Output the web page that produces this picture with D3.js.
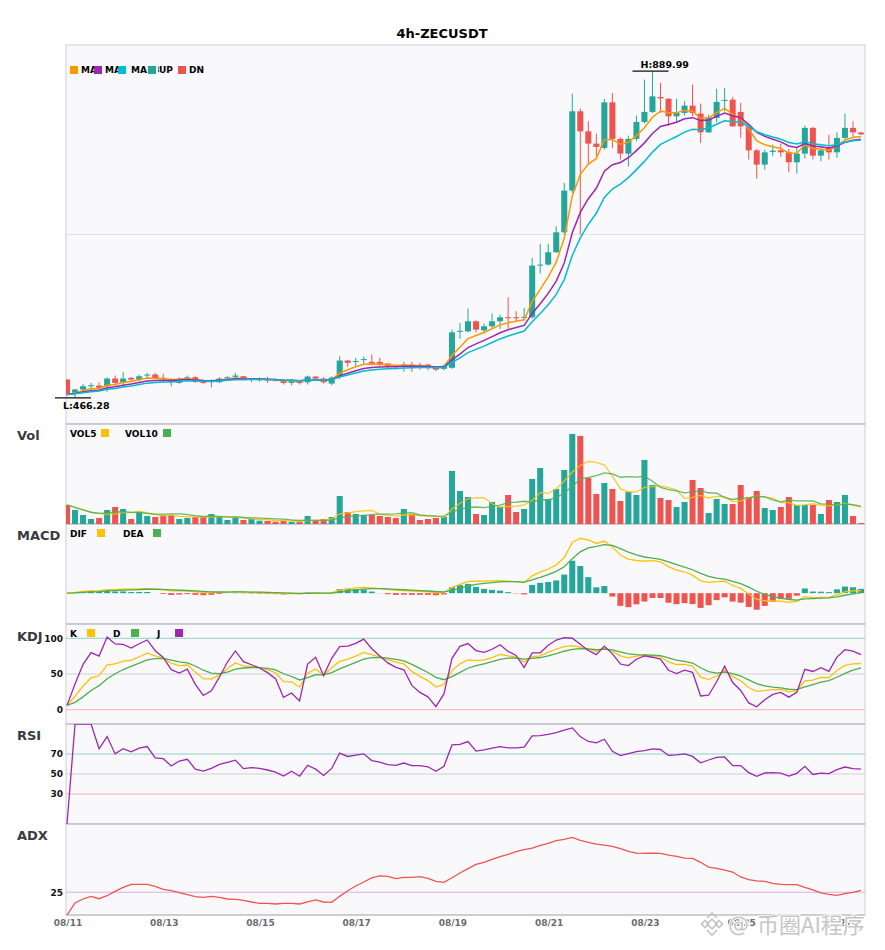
<!DOCTYPE html>
<html lang="zh">
<head>
<meta charset="utf-8">
<title>4h-ZECUSDT</title>
<script src="https://d3js.org/d3.v7.min.js"></script>
<style>
  html, body { margin: 0; padding: 0; background: #fff; }
  svg { display: block; font-family: "DejaVu Sans", sans-serif; }
</style>
</head>
<body>
<div id="chart"></div>
<script>
// ---- data (4h candles) ----
const open = [490.0,472.8,477.1,481.8,482.2,481.3,491.3,486.5,492.2,490.0,
  495.2,496.5,492.2,488.7,485.7,491.3,493.0,487.8,486.5,486.5,
  491.3,493.5,494.3,490.0,489.6,490.0,490.7,489.1,485.7,486.8,
  486.5,493.9,491.3,484.8,493.5,514.7,513.4,515.3,513.0,513.0,
  510.8,508.6,506.5,509.5,509.1,509.5,505.2,503.9,505.2,552.3,
  552.6,565.6,553.9,559.1,565.6,570.8,570.8,570.0,570.8,637.8,
  639.1,655.1,681.0,735.1,837.9,811.9,796.0,790.4,849.5,802.1,
  783.0,802.1,824.1,837.1,856.5,854.3,831.4,835.8,845.3,834.9,
  810.6,829.3,851.7,853.0,837.1,818.4,787.3,768.8,785.2,787.3,
  784.7,771.8,783.0,816.4,780.4,790.4,784.7,803.4,816.4,810.3];
const high = [490.6,477.9,484.4,485.7,486.5,493.0,495.2,499.5,493.5,496.5,
  498.7,498.7,497.4,491.3,493.0,495.2,494.3,490.0,490.0,493.0,
  494.3,498.7,494.8,492.2,492.6,493.5,491.3,490.0,490.0,488.1,
  495.2,494.3,493.0,494.3,520.2,515.2,518.2,520.2,522.4,518.2,
  511.2,509.5,513.0,513.0,511.7,510.0,505.6,509.5,554.8,563.5,
  582.1,566.9,562.6,575.6,574.3,596.7,578.6,583.0,647.8,666.0,
  666.0,688.8,745.0,860.8,841.4,824.9,809.0,854.0,861.7,804.2,
  806.4,832.3,879.0,889.99,874.7,854.3,854.0,850.8,872.5,847.9,
  833.6,867.3,868.2,856.5,848.8,819.0,789.1,788.2,794.7,796.0,
  789.1,790.4,819.3,817.6,792.5,807.7,810.6,834.9,824.9,811.2];
const low = [469.3,466.28,472.8,477.1,477.1,474.1,481.3,481.3,487.0,487.8,
  490.9,490.9,485.7,481.3,484.4,487.8,485.7,484.4,480.0,485.7,
  489.1,490.0,489.1,486.5,487.4,485.7,487.4,483.5,482.6,483.5,
  483.5,490.0,484.8,482.6,490.9,506.5,507.3,509.5,508.6,507.3,
  505.2,503.0,500.0,500.0,503.0,502.1,500.8,502.1,503.9,542.8,
  551.3,551.3,549.7,555.8,555.8,555.8,565.6,566.9,568.7,627.4,
  637.8,654.3,678.0,732.1,678.0,768.8,779.1,788.2,790.4,775.3,
  766.6,799.0,821.9,835.8,835.8,819.3,823.6,832.3,831.4,796.9,
  809.9,823.6,837.9,817.6,803.4,775.3,750.6,762.3,779.5,778.8,
  758.8,757.1,776.6,775.3,773.0,775.3,777.5,801.2,804.7,807.3];
const close = [470.6,477.1,481.3,482.6,479.3,491.3,485.7,491.3,490.0,494.3,
  496.5,491.3,490.9,487.0,491.3,493.0,487.0,485.7,487.8,491.3,
  493.0,495.2,490.0,490.9,490.4,489.4,488.1,485.7,488.7,485.5,
  493.9,491.3,486.5,492.6,514.7,511.7,514.0,516.6,510.8,509.5,
  507.3,506.5,509.5,507.3,507.3,506.5,503.0,507.8,551.3,553.2,
  565.6,554.8,559.1,565.6,570.8,569.5,569.5,571.3,637.8,639.1,
  655.1,681.0,735.1,837.9,811.9,796.0,791.7,849.5,802.1,783.0,
  802.1,824.1,837.1,857.3,854.7,831.4,835.8,845.3,835.8,810.6,
  830.1,850.1,852.7,818.4,818.4,787.3,768.8,784.7,786.9,784.7,
  771.8,783.0,816.4,780.4,787.3,784.7,803.4,816.4,810.6,808.1];
const volume = [19,14,9,5,6,14,17,15,5,12,
  8,7,9,9,5,6,7,7,10,7,
  4,6,4,5,3.3,3,2.3,3.3,2,2,
  8,3,5,7,28,12,10,9,9,8,
  7,6,15,10,4,5,6,7,53,33,
  27,10,9,22,17,29,12,15,45,56,
  25,35,54,90,88,46,30,41,35,23,
  32,29,64,39,26,24,17,22,44,36,
  11,25,20,20,39,27,33,16,14,17,
  27,19,19,19,10,24,22,29,8,1];
// ADX line
const adx = [0,13.2,17.6,20.5,17.9,21.2,26.0,30.4,33.7,33.7,
  33.7,31.5,28.2,26.7,24.5,22.3,20.1,19.4,20.5,19.4,
  17.6,17.2,16.1,14.3,12.8,12.8,12.1,12.8,12.8,12.1,
  14.3,16.5,14.3,13.9,20.5,26.7,31.9,36.3,40.7,42.9,
  42.5,39.9,41.4,41.4,42.1,40.3,37.0,35.9,41.0,46.1,
  50.9,55.7,57.9,61.2,64.1,66.7,69.6,71.8,73.6,76.6,
  78.8,81.7,83.1,85.3,82.0,79.8,78.0,76.9,75.5,72.9,
  70.0,68.1,67.8,68.1,67.8,65.9,64.5,62.6,62.3,57.9,
  52.7,51.3,49.4,47.2,41.8,38.8,37.4,37.0,34.8,33.7,
  33.3,33.3,30.4,27.5,24.2,22.7,21.6,23.4,24.9,27.1];

const tickIdx = [0, 12, 24, 36, 48, 60, 72, 84, 96];
const tickLabels = ["08/11","08/13","08/15","08/17","08/19","08/21","08/23","08/25","08/27"];
const kdjTicks = [0, 50, 100];
const rsiTicks = [30, 50, 70];
const adxTicks = [25];

// indicator periods
const maPeriods = [5, 9, 13];
const macdPeriods = [6, 13, 5];

// ---- indicators computed from the candles ----
function sma(arr, n) {
  return arr.map((d, i) => d3.mean(arr.slice(Math.max(0, i - n + 1), i + 1)));
}
function ewm(arr, alpha) {
  const out = [];
  arr.forEach((d, i) => out.push(i === 0 ? d : alpha * d + (1 - alpha) * out[i - 1]));
  return out;
}
const ema = (arr, n) => ewm(arr, 2 / (n + 1));

const [ma5, ma10, ma20] = maPeriods.map(n => ema(close, n));
const vol5 = sma(volume, 5), vol10 = sma(volume, 10);

const emaFast = ema(close, macdPeriods[0]), emaSlow = ema(close, macdPeriods[1]);
const dif = emaFast.map((d, i) => d - emaSlow[i]);
const dea = ema(dif, macdPeriods[2]);
const hist = dif.map((d, i) => 2 * (d - dea[i]));

const rsv = close.map((c, i) => {
  const lo = d3.min(low.slice(Math.max(0, i - 8), i + 1));
  const hi = d3.max(high.slice(Math.max(0, i - 8), i + 1));
  return hi === lo ? 0 : (c - lo) / (hi - lo) * 100;
});
const kLine = ewm(rsv, 1 / 3);
const dLine = ewm(kLine, 1 / 3);
const jLine = kLine.map((k, i) => 3 * k - 2 * dLine[i]);

// RSI 14, Wilder smoothing
const diff = close.map((c, i) => i === 0 ? 0 : c - close[i - 1]);
const avgGain = ewm(diff.map(d => Math.max(d, 0)), 1 / 14);
const avgLoss = ewm(diff.map(d => Math.max(-d, 0)), 1 / 14);
const rsi = avgGain.map((g, i) => (g + avgLoss[i]) === 0 ? 0 : 100 * g / (g + avgLoss[i]));

// ---- layout ----
const width = 885, height = 950;
const left = 66, right = 865;
const panels = {
  main: [45, 424], vol: [424, 524], macd: [524, 624],
  kdj: [624, 724], rsi: [724, 824], adx: [824, 915]
};
const UP = "#26a69a", DN = "#ef5350";
const BG = "#f9f9fb";
const idx = d3.range(close.length);

const svg = d3.select("#chart").append("svg")
  .attr("width", width).attr("height", height)
  .attr("viewBox", `0 0 ${width} ${height}`);

const x = d3.scaleBand().domain(idx).range([64, 864]).paddingInner(0.25);
const xc = i => x(i) + x.bandwidth() / 2;
const col = i => close[i] >= open[i] ? UP : DN;

// panel backgrounds
Object.entries(panels).forEach(([key, [t, b]]) => {
  svg.append("rect").attr("x", left).attr("y", t)
    .attr("width", right - left).attr("height", b - t)
    .attr("fill", BG).attr("stroke", "#cfcfd6").attr("stroke-width", 1);
  svg.append("clipPath").attr("id", "clip-" + key)
    .append("rect").attr("x", left).attr("y", t)
    .attr("width", right - left).attr("height", b - t);
});
// panel separators
[424, 524, 624, 724, 824, 915].forEach(yy => {
  svg.append("line").attr("x1", left).attr("x2", right).attr("y1", yy).attr("y2", yy)
    .attr("stroke", "#b4b4bc").attr("stroke-width", 1);
});

// title
svg.append("text").attr("x", 442).attr("y", 38).attr("text-anchor", "middle")
  .style("font-size", "13px").style("font-weight", "bold").text("4h-ZECUSDT");

// panel labels
[["Vol", 440], ["MACD", 540], ["KDJ", 641], ["RSI", 740], ["ADX", 840]].forEach(([t, yy]) => {
  svg.append("text").attr("x", 17).attr("y", yy)
    .style("font-size", "13px").style("font-weight", "bold").style("fill", "#3a3a40").text(t);
});

const lineOf = (ys) => d3.line().x((d, i) => xc(i)).y(d => ys(d));

// ---- main candle panel ----
const lo = d3.min(low), hi = d3.max(high), pad = (hi - lo) * 0.08;
const y = d3.scaleLinear().domain([lo - pad, hi + pad]).range([panels.main[1], panels.main[0]]);
const gMain = svg.append("g").attr("clip-path", "url(#clip-main)");

gMain.append("line").attr("x1", left).attr("x2", right)
  .attr("y1", y((lo + hi) / 2)).attr("y2", y((lo + hi) / 2))
  .attr("stroke", "#e2e2e6").attr("stroke-width", 1);

gMain.selectAll(".wick").data(idx).enter().append("line")
  .attr("class", "wick")
  .attr("x1", i => xc(i)).attr("x2", i => xc(i))
  .attr("y1", i => y(high[i])).attr("y2", i => y(low[i]))
  .attr("stroke", col).attr("stroke-width", 1);

gMain.selectAll(".body").data(idx).enter().append("rect")
  .attr("class", "body")
  .attr("x", i => x(i)).attr("width", x.bandwidth())
  .attr("y", i => y(Math.max(open[i], close[i])))
  .attr("height", i => Math.max(1, Math.abs(y(open[i]) - y(close[i]))))
  .attr("fill", col);

[[ma5, "#ff9800"], [ma10, "#9c27b0"], [ma20, "#00bcd4"]].forEach(([s, c]) => {
  gMain.append("path").datum(s).attr("d", lineOf(y))
    .attr("fill", "none").attr("stroke", c).attr("stroke-width", 1.5);
});

// high / low markers
const iHi = d3.maxIndex(high), iLo = d3.minIndex(low);
svg.append("line").attr("x1", xc(iHi) - 20).attr("x2", xc(iHi) + 16)
  .attr("y1", y(high[iHi])).attr("y2", y(high[iHi])).attr("stroke", "#111").attr("stroke-width", 1.2);
svg.append("text").attr("x", xc(iHi) - 12).attr("y", y(high[iHi]) - 3)
  .style("font-size", "9.5px").style("font-weight", "bold").text("H:" + high[iHi].toFixed(2));
svg.append("line").attr("x1", xc(iLo) - 20).attr("x2", xc(iLo) + 16)
  .attr("y1", y(low[iLo])).attr("y2", y(low[iLo])).attr("stroke", "#111").attr("stroke-width", 1.2);
svg.append("text").attr("x", xc(iLo) - 12).attr("y", y(low[iLo]) + 11)
  .style("font-size", "9.5px").style("font-weight", "bold").text("L:" + low[iLo].toFixed(2));

// legends
function legendSwatchFirst(items, yy) {
  items.forEach(([label, c, sx, tx]) => {
    svg.append("rect").attr("x", sx).attr("y", yy - 8).attr("width", tx - sx - 1).attr("height", 10)
      .attr("fill", BG);
    svg.append("rect").attr("x", sx).attr("y", yy - 7).attr("width", 8).attr("height", 8).attr("fill", c);
    svg.append("text").attr("x", tx).attr("y", yy)
      .style("font-size", "9px").style("font-weight", "bold").text(label);
  });
}
function legendTextFirst(items, yy) {
  items.forEach(([label, c, tx, sx]) => {
    svg.append("text").attr("x", tx).attr("y", yy)
      .style("font-size", "9px").style("font-weight", "bold").text(label);
    svg.append("rect").attr("x", sx).attr("y", yy - 8).attr("width", 8).attr("height", 8).attr("fill", c);
  });
}
legendSwatchFirst([
  ["MA" + maPeriods[0], "#ff9800", 70, 81], ["MA" + maPeriods[1], "#9c27b0", 94, 105],
  ["MA" + maPeriods[2], "#00bcd4", 118, 131], ["UP", UP, 148, 159], ["DN", DN, 178, 189]
], 73);

// ---- volume panel ----
const yv = d3.scaleLinear().domain([0, d3.max(volume) * 1.11]).range([panels.vol[1], panels.vol[0]]);
const gVol = svg.append("g").attr("clip-path", "url(#clip-vol)");
gVol.selectAll(".vbar").data(idx).enter().append("rect")
  .attr("class", "vbar")
  .attr("x", i => x(i)).attr("width", x.bandwidth())
  .attr("y", i => yv(volume[i])).attr("height", i => yv(0) - yv(volume[i]))
  .attr("fill", col);
[[vol5, "#ffc107"], [vol10, "#4caf50"]].forEach(([s, c]) => {
  gVol.append("path").datum(s).attr("d", lineOf(yv))
    .attr("fill", "none").attr("stroke", c).attr("stroke-width", 1.3).attr("opacity", 0.85);
});
legendTextFirst([["VOL5", "#ffc107", 70, 101], ["VOL10", "#4caf50", 125, 163]], 437);

// ---- MACD panel ----
const mExt = d3.extent([...dif, ...dea, ...hist]);
const mPad = (mExt[1] - mExt[0]) * 0.2;
const ym = d3.scaleLinear().domain([mExt[0] - mPad, mExt[1] + mPad]).range([panels.macd[1], panels.macd[0]]);
const gMacd = svg.append("g").attr("clip-path", "url(#clip-macd)");
gMacd.selectAll(".mbar").data(idx).enter().append("rect")
  .attr("class", "mbar")
  .attr("x", i => x(i)).attr("width", x.bandwidth())
  .attr("y", i => ym(Math.max(0, hist[i])))
  .attr("height", i => Math.abs(ym(hist[i]) - ym(0)))
  .attr("fill", i => hist[i] >= 0 ? UP : DN);
[[dif, "#ffc107"], [dea, "#4caf50"]].forEach(([s, c]) => {
  gMacd.append("path").datum(s).attr("d", lineOf(ym))
    .attr("fill", "none").attr("stroke", c).attr("stroke-width", 1.3);
});
legendTextFirst([["DIF", "#ffc107", 70, 97], ["DEA", "#4caf50", 123, 153]], 537);

// ---- reference-line panels ----
function refLines(g, ys, ticks, colors) {
  ticks.forEach((t, k) => {
    g.append("line").attr("x1", left).attr("x2", right).attr("y1", ys(t)).attr("y2", ys(t))
      .attr("stroke", colors[k]).attr("stroke-width", 1);
  });
  svg.append("g").attr("transform", `translate(${left},0)`)
    .call(d3.axisLeft(ys).tickValues(ticks).tickSize(0).tickPadding(3))
    .call(a => a.select(".domain").remove())
    .selectAll("text").style("font-size", "9px").style("font-weight", "bold")
    .style("font-family", "DejaVu Sans").style("fill", "#111");
}

// KDJ
const yk = d3.scaleLinear().domain([-20, 120]).range([panels.kdj[1], panels.kdj[0]]);
const gKdj = svg.append("g").attr("clip-path", "url(#clip-kdj)");
refLines(gKdj, yk, kdjTicks, ["#f7b1b0", "#cfcfd4", "#8fd0c9"]);
[[kLine, "#ffc107"], [dLine, "#4caf50"], [jLine, "#9c27b0"]].forEach(([s, c]) => {
  gKdj.append("path").datum(s).attr("d", lineOf(yk))
    .attr("fill", "none").attr("stroke", c).attr("stroke-width", 1.3);
});
legendTextFirst([["K", "#ffc107", 70, 87], ["D", "#4caf50", 113, 131], ["J", "#9c27b0", 157, 175]], 637);

// RSI
const yr = d3.scaleLinear().domain([0, 100]).range([panels.rsi[1], panels.rsi[0]]);
const gRsi = svg.append("g").attr("clip-path", "url(#clip-rsi)");
refLines(gRsi, yr, rsiTicks, ["#f7b1b0", "#cfcfd4", "#8fd0c9"]);
gRsi.append("path").datum(rsi).attr("d", lineOf(yr))
  .attr("fill", "none").attr("stroke", "#9c27b0").attr("stroke-width", 1.3);

// ADX
const ya = d3.scaleLinear().domain([0, 100]).range([panels.adx[1], panels.adx[0]]);
const gAdx = svg.append("g").attr("clip-path", "url(#clip-adx)");
refLines(gAdx, ya, adxTicks, ["#dcaee6"]);
gAdx.append("path").datum(adx).attr("d", lineOf(ya))
  .attr("fill", "none").attr("stroke", "#ef5350").attr("stroke-width", 1.3);

// ---- x axis labels ----
svg.selectAll(".xlab").data(tickIdx).enter().append("text")
  .attr("class", "xlab")
  .attr("x", i => xc(i) + 1).attr("y", 926).attr("text-anchor", "middle")
  .style("font-size", "9px").style("font-weight", "bold").style("fill", "#6b6b70")
  .text((d, k) => tickLabels[k]);

// ---- watermark ----
const wm = svg.append("g").attr("class", "watermark");
const logo = wm.append("g").attr("transform", "translate(712,924)")
  .attr("fill", "none").attr("stroke", "#c4c4c4").attr("stroke-width", 1.6);
[[0, 0, 3.5], [-7, 0, 2.5], [7, 0, 2.5]].forEach(([cx, cy, r]) => {
  logo.append("rect").attr("x", cx - r).attr("y", cy - r).attr("width", 2 * r).attr("height", 2 * r)
    .attr("transform", `rotate(45,${cx},${cy})`);
});
logo.append("path").attr("d", "M-5,-6 L0,-11 L5,-6 M-5,6 L0,11 L5,6");
wm.append("text").attr("x", 728).attr("y", 932)
  .style("font-size", "21px").style("fill", "#c6c6c6")
  .style("stroke", "#fff").style("stroke-width", 2).style("paint-order", "stroke")
  .text("@");
wm.append("text").attr("x", 757).attr("y", 933)
  .style("font-family", "'Noto Sans CJK SC', sans-serif")
  .style("font-size", "22px").style("fill", "#c6c6c6")
  .style("stroke", "#fff").style("stroke-width", 2).style("paint-order", "stroke")
  .text("币圈AI程序");
</script>
</body>
</html>
